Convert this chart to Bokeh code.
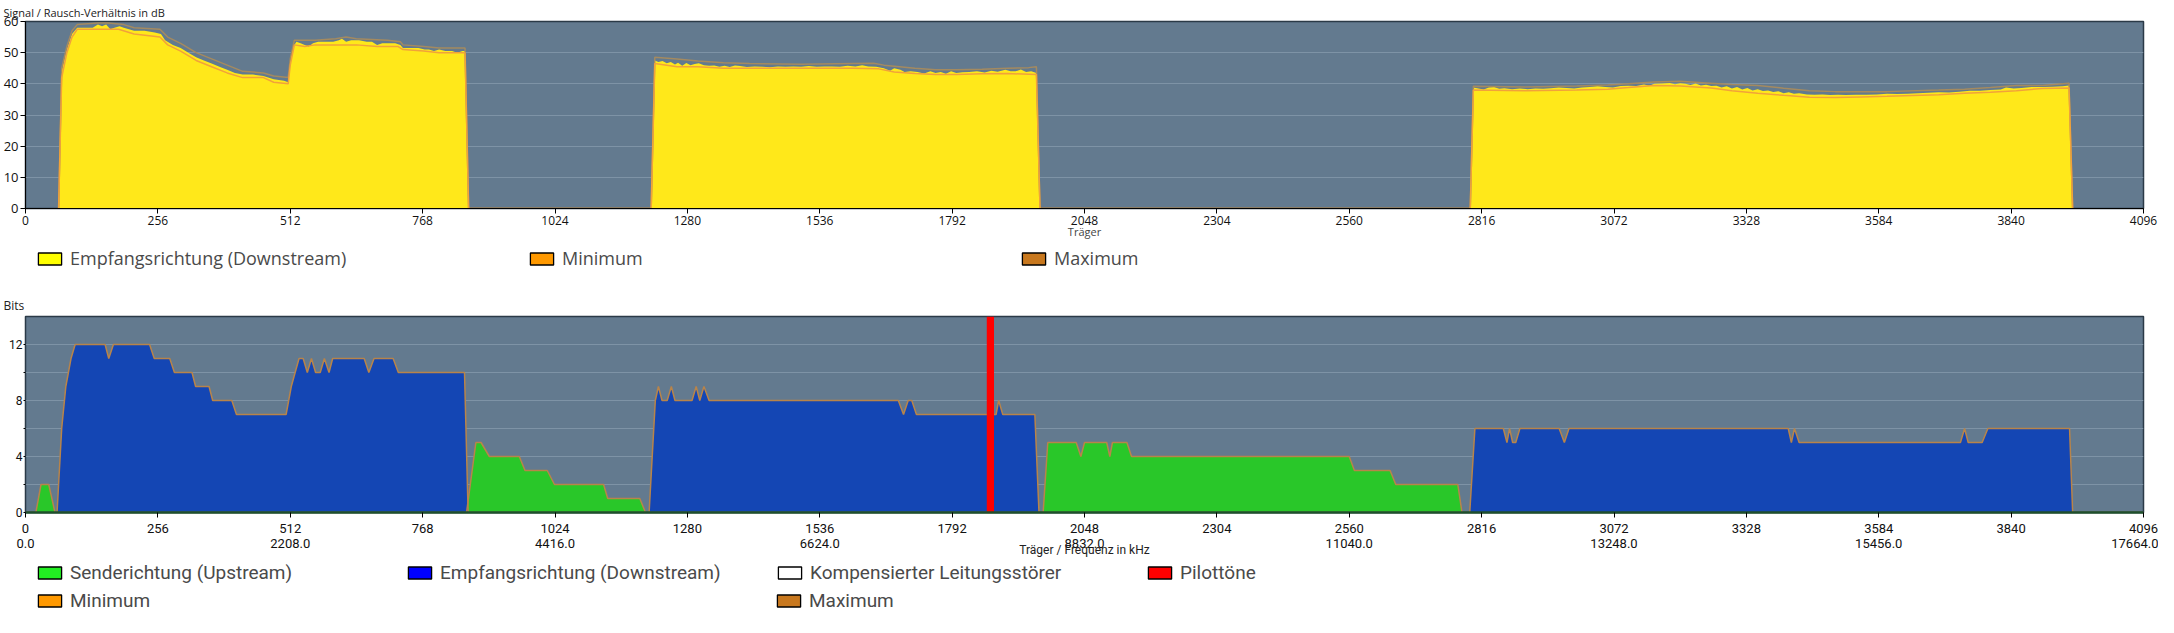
from bokeh.plotting import figure
from bokeh.models import FixedTicker, LinearAxis, Range1d, Legend, LegendItem
from bokeh.layouts import column
from bokeh.embed import file_html
from bokeh.resources import INLINE

# ---------------- data: top chart (SNR in dB per carrier) ----------------
snr_carrier = [64, 70, 80, 90, 100, 110, 120, 130, 140, 148, 156, 164, 172, 182, 190, 200, 210, 230, 250, 262,
               270, 285, 300, 315, 330, 345, 360, 375, 390, 405, 420, 440, 460, 480, 500, 508, 512, 518, 524, 532,
               540, 548, 556, 566, 580, 595, 606, 612, 620, 630, 645, 660, 670, 680, 690, 700, 715, 725, 730, 745,
               760, 772, 780, 790, 800, 812, 825, 835, 845, 850, 857,
               1210, 1217, 1224, 1232, 1240, 1248, 1256, 1262, 1270, 1278, 1286, 1294, 1302, 1312, 1322, 1332, 1342,
               1352, 1362, 1372, 1382, 1395, 1410, 1425, 1440, 1455, 1470, 1485, 1500, 1515, 1530, 1545, 1560, 1575,
               1590, 1605, 1618, 1630, 1645, 1660, 1672, 1680, 1692, 1700, 1712, 1725, 1738, 1750, 1760, 1770, 1780,
               1790, 1800, 1812, 1825, 1840, 1855, 1868, 1880, 1895, 1905, 1915, 1925, 1935, 1945, 1955, 1962,
               2794, 2800, 2810, 2820, 2830, 2840, 2850, 2860, 2875, 2890, 2905, 2920, 2935, 2950, 2965, 2980, 2995,
               3010, 3025, 3040, 3055, 3070, 3085, 3100, 3115, 3130, 3140, 3150, 3165, 3180, 3190, 3200, 3210, 3220,
               3230, 3240, 3250, 3260, 3270, 3280, 3290, 3300, 3310, 3320, 3330, 3340, 3350, 3360, 3370, 3380, 3390,
               3400, 3410, 3420, 3430, 3445, 3460, 3475, 3490, 3505, 3520, 3540, 3560, 3580, 3600, 3620, 3640, 3660,
               3680, 3700, 3720, 3740, 3760, 3780, 3800, 3820, 3830, 3845, 3860, 3880, 3900, 3920, 3940, 3952, 3959]
snr_db = [0, 44, 51, 56, 58, 58, 58, 58, 59, 58.5, 59, 57.5, 58, 58.5, 58, 57.5, 57, 57, 56.5, 56,
          54, 52.5, 51.5, 50, 48.5, 47.5, 46.5, 45.5, 44.5, 43.5, 43, 43, 42.5, 41.5, 41, 40.5, 47, 52, 53.5, 53,
          52.5, 52, 53, 53.5, 53.5, 53.5, 54, 54.5, 53.5, 54, 54, 53.5, 53.5, 52.5, 53, 53, 53, 52.5, 51.5, 51.5,
          51.5, 51, 51, 50.5, 51, 50.5, 50.5, 50, 50.5, 50.5, 0,
          0, 47.5, 47, 47.3, 46.6, 47, 46.2, 46.8, 45.8, 46.7, 46, 46.4, 46.6, 46, 45.8, 45.9, 45.5,
          45.8, 45.4, 45.9, 45.7, 45.4, 45.6, 45.5, 45.3, 45.6, 45.5, 45.6, 45.5, 45.7, 45.5, 45.6, 45.6, 45.5,
          45.8, 45.6, 46, 45.6, 45.5, 45, 44.2, 45, 44.5, 43.8, 44, 43.8, 43.3, 44, 43.5, 43.8, 43.2,
          44, 43.5, 43.7, 43.8, 44, 43.6, 44.2, 43.9, 44.5, 44, 44, 44.6, 43.8, 44, 43.5, 0,
          0, 38.8, 38.5, 38.2, 38.8, 39, 38.4, 38.6, 38.3, 38.5, 38.3, 38.5, 38.4, 38.6, 38.8, 38.7, 38.5,
          38.8, 39, 39.2, 39, 38.8, 39.3, 39.4, 39.3, 39.8, 39.4, 40, 40.1, 40.3, 39.9, 40.2, 40, 39.6,
          40.1, 39.5, 39.7, 39.3, 39.4, 38.8, 39.2, 38.5, 39, 38.2, 38.7, 37.9, 38.3, 37.7, 37.9, 37.4, 37.6,
          37, 37.3, 36.8, 37, 36.6, 36.5, 36.6, 36.4, 36.5, 36.4, 36.5, 36.5, 36.6, 36.8, 36.7, 36.8, 37,
          37.1, 37.3, 37.2, 37.5, 37.8, 37.8, 38, 38.2, 38.8, 38.5, 38.7, 39, 39, 39.1, 39.2, 39.5, 0]

snr_min_carrier = [64, 70, 80, 90, 100, 140, 160, 180, 210, 260, 275, 300, 330, 360, 390, 420, 460, 480, 508, 512,
                   520, 540, 560, 600, 640, 680, 720, 730, 770, 800, 850, 857,
                   1210, 1217, 1260, 1300, 1350, 1400, 1500, 1600, 1650, 1680, 1720, 1760, 1800, 1850, 1900, 1955, 1962,
                   2794, 2800, 2900, 3000, 3060, 3100, 3150, 3200, 3260, 3300, 3350, 3400, 3450, 3500, 3550, 3600,
                   3700, 3750, 3800, 3850, 3900, 3952, 3959]
snr_min_db = [0, 42, 50, 55, 57.5, 57.5, 57.5, 57.5, 56, 55, 52.5, 50.5, 47.5, 45.5, 43.5, 42, 42, 40.5, 40, 46,
              52.5, 52, 52.5, 52.5, 52.5, 52, 52, 51, 50.5, 50, 50, 0,
              0, 46.5, 45.5, 45.5, 45, 45, 45, 45, 44.8, 43.8, 43.3, 43, 43, 43.2, 43.3, 43, 0,
              0, 38, 37.8, 38, 38.3, 38.8, 39.5, 39.3, 38.7, 37.8, 37, 36.3, 35.7, 35.6, 35.8, 36,
              36.5, 37, 37.3, 37.8, 38.5, 38.7, 0]

snr_max_carrier = [64, 70, 80, 90, 100, 140, 160, 190, 210, 260, 275, 300, 330, 360, 390, 420, 460, 480, 508, 512,
                   520, 540, 560, 600, 620, 640, 700, 725, 730, 770, 800, 850, 857,
                   1210, 1217, 1260, 1300, 1350, 1400, 1500, 1600, 1640, 1660, 1690, 1720, 1760, 1800, 1850, 1900,
                   1940, 1955, 1962,
                   2794, 2800, 2900, 3000, 3060, 3100, 3150, 3200, 3250, 3300, 3350, 3400, 3450, 3500, 3550, 3600,
                   3700, 3750, 3800, 3850, 3900, 3952, 3959]
snr_max_db = [0, 45, 52, 57, 59, 59.5, 59.5, 59, 58, 57.5, 55, 53, 50, 48, 46, 44, 43.5, 42.5, 42, 48,
              54, 54, 54, 54.5, 55, 54.5, 54, 53.5, 52.5, 52, 51.5, 51.5, 0,
              0, 48.5, 48, 47.3, 46.8, 46.5, 46.3, 46.5, 46.6, 46, 45.5, 45, 44.5, 44.5, 44.7, 45,
              45.2, 45.5, 0,
              0, 39.2, 39, 39.3, 39.6, 40, 40.6, 40.8, 40.3, 39.8, 39.5, 38.6, 37.8, 37.5, 37.5, 37.5,
              38, 38.3, 38.8, 39.5, 39.5, 40.2, 0]

carrier_ticks = [0, 256, 512, 768, 1024, 1280, 1536, 1792, 2048, 2304, 2560, 2816, 3072, 3328, 3584, 3840, 4096]
snr_ticks = [0, 10, 20, 30, 40, 50, 60]

# ---------------- data: bottom chart (bits per carrier) ----------------
us_carrier = [0, 20, 30, 45, 57, 853, 871, 881, 897, 955, 966, 1009, 1023, 1118, 1126, 1188, 1199,
              1968, 1977, 2032, 2041, 2048, 2091, 2097, 2102, 2130, 2139, 2560, 2570, 2639, 2650, 2770, 2778]
us_bits = [0, 0, 2, 2, 0, 0, 5, 5, 4, 4, 3, 3, 2, 2, 1, 1, 0,
           0, 5, 5, 4, 5, 5, 4, 5, 5, 4, 4, 3, 3, 2, 2, 0]

ds_carrier = [61, 70, 78, 88, 96, 154, 161, 170, 240, 249, 279, 288, 322, 329, 355, 362, 399, 408, 504, 514,
              529, 537, 545, 553, 561, 570, 578, 587, 594, 655, 664, 674, 711, 721, 849, 856,
              1206, 1218, 1224, 1231, 1241, 1249, 1256, 1289, 1297, 1304, 1312, 1322, 1688, 1698, 1707, 1714,
              1723, 1877, 1882, 1890, 1952, 1960,
              2793, 2803, 2858, 2865, 2870, 2876, 2882, 2890, 2966, 2976, 2985, 3409, 3415, 3421, 3430, 3742,
              3750, 3757, 3784, 3795, 3953, 3959, 4096]
ds_bits = [0, 6, 9, 11, 12, 12, 11, 12, 12, 11, 11, 10, 10, 9, 9, 8, 8, 7, 7, 9,
           11, 11, 10, 11, 10, 10, 11, 10, 11, 11, 10, 11, 11, 10, 10, 0,
           0, 8, 9, 8, 8, 9, 8, 8, 9, 8, 9, 8, 8, 7, 8, 8,
           7, 7, 8, 7, 7, 0,
           0, 6, 6, 5, 6, 5, 5, 6, 6, 5, 6, 6, 5, 6, 5, 5,
           6, 5, 5, 6, 6, 0, 0]

pilot_carrier = [1866]
pilot_bits = [14]

bits_ticks = [0, 4, 8, 12]
bits_minor = [2, 6, 10]
freq_ticks = [0, 512, 1024, 1536, 2048, 2560, 3072, 3584, 4096]
freq_labels = ["0.0", "2208.0", "4416.0", "6624.0", "8832.0", "11040.0", "13248.0", "15456.0", "17664.0"]

# ---------------- style ----------------
BG = "#637A8F"
GRID = "#7E93A6"
F1 = "Open Sans"
F2 = "Roboto"
NAN = float("nan")
PAGE_W = 2158


def legend_strip(height, rows):
    """A white strip figure that only holds legend boxes (inside its frame)."""
    f = figure(width=PAGE_W, height=height, min_border=0,
               x_range=Range1d(0, 1), y_range=Range1d(0, 1),
               x_axis_location=None, y_axis_location=None,
               output_backend="svg", toolbar_location=None,
               outline_line_color=None, background_fill_color="white")
    f.grid.visible = False
    for entries, vx, vy, label_width, font, size in rows:
        items = []
        for label, color in entries:
            r = f.quad(left=[NAN], right=[NAN], top=[NAN], bottom=[NAN],
                       fill_color=color, line_color="black", line_width=1.3)
            items.append(LegendItem(label=label, renderers=[r]))
        lg = Legend(items=items, location=(vx, vy), orientation="horizontal",
                    glyph_width=29, glyph_height=15, label_width=label_width,
                    label_standoff=6, spacing=0, padding=0, margin=0,
                    background_fill_alpha=0, border_line_alpha=0,
                    label_text_font=font, label_text_font_size=size,
                    label_text_color="#4a4a4a")
        f.add_layout(lg, "center")
    return f


# ---------------- top figure ----------------
p1 = figure(frame_width=2118, frame_height=187, min_border_left=25, min_border_right=15,
            min_border_top=18, min_border_bottom=33,
            x_range=Range1d(0, 4096), y_range=Range1d(0, 60),
            output_backend="svg", toolbar_location=None, background_fill_color=BG,
            border_fill_color="white", outline_line_color="#2b3a47", outline_line_width=1.5)
p1.title.text = "Signal / Rausch-Verhältnis in dB"
p1.title.align = "left"
p1.title.offset = -22
p1.title.standoff = 4
p1.title.text_font = F1
p1.title.text_font_size = "11px"
p1.title.text_font_style = "normal"
p1.title.text_color = "#222222"

p1.varea(x=snr_carrier, y1=0, y2=snr_db, fill_color="#FFE81A")
p1.line(x=snr_max_carrier, y=snr_max_db, line_color="#A48A60", line_width=1.5)
p1.line(x=snr_min_carrier, y=snr_min_db, line_color="#F2A23A", line_width=1.5)

p1.xaxis.ticker = FixedTicker(ticks=carrier_ticks)
p1.yaxis.ticker = FixedTicker(ticks=snr_ticks)
p1.xgrid.visible = False
p1.ygrid.grid_line_color = GRID
p1.xaxis.axis_label = "Träger"
p1.xaxis.axis_label_standoff = -4
p1.xaxis.axis_label_text_font = F1
p1.xaxis.axis_label_text_font_size = "11px"
p1.xaxis.axis_label_text_font_style = "normal"
for ax in (p1.xaxis[0], p1.yaxis[0]):
    ax.major_label_text_font = F1
    ax.major_label_text_font_size = "12px"
    ax.major_label_text_color = "#111111"
    ax.major_tick_out = 5
    ax.major_tick_in = 0
    ax.minor_tick_line_color = None
    ax.axis_line_color = "black"
    ax.major_label_standoff = 2
p1.yaxis.major_label_text_font_size = "13px"

leg1 = legend_strip(33, [([("Empfangsrichtung (Downstream)", "#FFFF00"),
                           ("Minimum", "#FF9900"),
                           ("Maximum", "#C8781E")], 10, 4, 457, F1, "18px")])

# ---------------- bottom figure ----------------
p2 = figure(frame_width=2118, frame_height=196, min_border_left=25, min_border_right=15,
            min_border_top=42, min_border_bottom=48,
            x_range=Range1d(0, 4096), y_range=Range1d(0, 14),
            output_backend="svg", toolbar_location=None, background_fill_color=BG,
            border_fill_color="white", outline_line_color="#2b3a47", outline_line_width=1.5)
p2.title.text = "Bits"
p2.title.align = "left"
p2.title.offset = -22
p2.title.standoff = 5
p2.title.text_font = F1
p2.title.text_font_size = "12px"
p2.title.text_font_style = "normal"
p2.title.text_color = "#222222"

p2.varea(x=us_carrier, y1=0, y2=us_bits, fill_color="#29C729")
p2.varea(x=ds_carrier, y1=0, y2=ds_bits, fill_color="#1446B4")
p2.line(x=us_carrier, y=us_bits, line_color="#B8844A", line_width=1.5)
p2.line(x=ds_carrier, y=ds_bits, line_color="#B8844A", line_width=1.5)
p2.vbar(x=pilot_carrier, width=14, top=pilot_bits, bottom=0, fill_color="#FF0000", line_color=None)

p2.xaxis.ticker = FixedTicker(ticks=carrier_ticks)
p2.yaxis.ticker = FixedTicker(ticks=bits_ticks, minor_ticks=bits_minor)
p2.xgrid.visible = False
p2.ygrid.grid_line_color = GRID
p2.ygrid.minor_grid_line_color = GRID
ax = p2.xaxis[0]
ax.major_label_text_font = F2
ax.major_label_text_font_size = "13px"
ax.major_label_text_color = "#111111"
ax.major_tick_out = 5
ax.major_tick_in = 0
ax.major_label_standoff = 6
ax.minor_tick_line_color = None
ax.axis_line_color = "#1F4F2C"
ax.axis_line_width = 2.5
ay = p2.yaxis[0]
ay.major_label_text_font = F2
ay.major_label_text_font_size = "12px"
ay.major_label_text_color = "#111111"
ay.major_tick_out = 2
ay.major_tick_in = 0
ay.minor_tick_out = 2
ay.minor_tick_in = 0
ay.major_label_standoff = 1
ay.axis_line_color = None

fax = LinearAxis(ticker=FixedTicker(ticks=freq_ticks),
                 major_label_overrides=dict(zip(freq_ticks, freq_labels)),
                 axis_line_color=None, major_tick_line_color=None, minor_tick_line_color=None,
                 major_tick_out=0, major_tick_in=0, major_label_standoff=3,
                 major_label_text_font=F2, major_label_text_font_size="13px",
                 major_label_text_color="#111111",
                 axis_label="Träger / Frequenz in kHz", axis_label_standoff=-8,
                 axis_label_text_font=F2, axis_label_text_font_size="12px",
                 axis_label_text_font_style="normal", axis_label_text_color="#222222")
p2.add_layout(fax, "below")

leg2 = legend_strip(66, [
    ([("Senderichtung (Upstream)", "#22EE22"),
      ("Empfangsrichtung (Downstream)", "#0000FF"),
      ("Kompensierter Leitungsstörer", "#FFFFFF"),
      ("Pilottöne", "#FF0000")], 10, 42, 335, F2, "19px"),
    ([("Minimum", "#FF9900")], 10, 14, 335, F2, "19px"),
    ([("Maximum", "#C8781E")], 749, 14, 335, F2, "19px"),
])

layout = column(p1, leg1, p2, leg2, spacing=0)
open("out.html", "w").write(file_html(layout, INLINE))
